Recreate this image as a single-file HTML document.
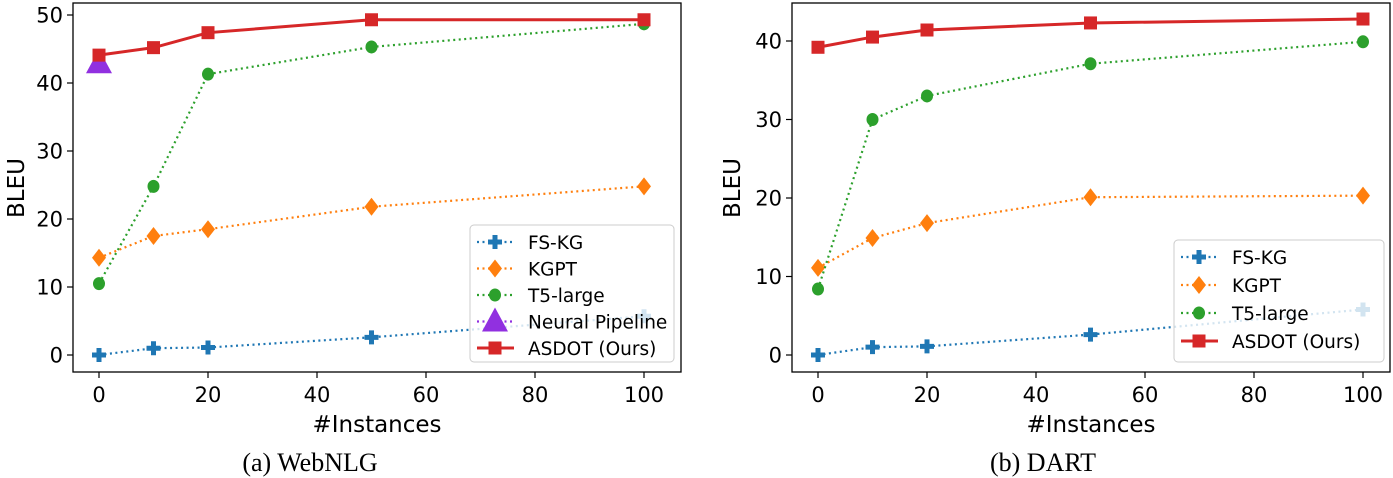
<!DOCTYPE html>
<html><head><meta charset="utf-8"><style>
body{margin:0;background:#fff;}
svg{display:block;font-family:"DejaVu Sans","Liberation Sans",sans-serif;}
</style></head><body>
<svg id="chart" width="1393" height="478" viewBox="0 0 1393 478" xmlns="http://www.w3.org/2000/svg"></svg>
<script>
const xVals = [0, 10, 20, 50, 100];
const xTicks = [0, 20, 40, 60, 80, 100];
const webTicksY = [0, 10, 20, 30, 40, 50];
const dartTicksY = [0, 10, 20, 30, 40];
const webFSKG = [0, 1.0, 1.1, 2.6, 5.7];
const webKGPT = [14.3, 17.5, 18.5, 21.8, 24.8];
const webT5 = [10.5, 24.8, 41.3, 45.3, 48.7];
const webNeural = [42.9];
const webASDOT = [44.1, 45.2, 47.4, 49.3, 49.3];
const dartFSKG = [0, 1.0, 1.1, 2.6, 5.8];
const dartKGPT = [11.1, 14.9, 16.8, 20.1, 20.3];
const dartT5 = [8.4, 30.0, 33.0, 37.1, 39.9];
const dartASDOT = [39.2, 40.5, 41.4, 42.3, 42.8];

const NS = "http://www.w3.org/2000/svg";
const svg = document.getElementById('chart');
function mk(tag, attrs, parent, text){
  const e = document.createElementNS(NS, tag);
  for (const k in attrs) e.setAttribute(k, attrs[k]);
  if (text !== undefined) e.textContent = text;
  (parent || svg).appendChild(e);
  return e;
}
const C = {blue:'#1f77b4', orange:'#ff7f0e', green:'#2ca02c', purple:'#9130e0', red:'#d62728'};

function marker(g, type, x, y, color){
  let m;
  if (type === 'plus') {
    m = mk('path', {d:`M${x-2.5},${y-7}h5v4.5h4.5v5h-4.5v4.5h-5v-4.5h-4.5v-5h4.5z`, fill:color}, g);
  } else if (type === 'diamond') {
    m = mk('path', {d:`M${x},${y-9}L${x+7},${y}L${x},${y+9}L${x-7},${y}Z`, fill:color}, g);
  } else if (type === 'circle') {
    m = mk('ellipse', {cx:x, cy:y, rx:6, ry:6.5, fill:color}, g);
  } else if (type === 'square') {
    m = mk('rect', {x:x-6.5, y:y-6.5, width:13, height:13, fill:color}, g);
  } else if (type === 'triangle') {
    m = mk('path', {d:`M${x},${y-14}L${x+13},${y+10}L${x-13},${y+10}Z`, fill:color}, g);
  }
  
  
}

function chart(cfg){
  const g = mk('g', {});
  
  
  const X = v => cfg.x0 + (cfg.x100 - cfg.x0) * v / 100;
  const Y = v => cfg.y0 - (cfg.y0 - cfg.yRef) * v / cfg.yRefVal;
  const frame = mk('rect', {x:cfg.left, y:3, width:cfg.right-cfg.left, height:369, fill:'none', stroke:'#000', 'stroke-width':1.3}, g);
  
  
  xTicks.forEach(t => {
    mk('line', {x1:X(t), x2:X(t), y1:372, y2:378, stroke:'#000', 'stroke-width':1.2}, g);
    const tl = mk('text', {x:X(t), y:402, 'font-size':21, 'text-anchor':'middle'}, g, String(t));
    
    
  });
  cfg.yTicks.forEach(t => {
    mk('line', {x1:cfg.left-6, x2:cfg.left, y1:Y(t), y2:Y(t), stroke:'#000', 'stroke-width':1.2}, g);
    const tl = mk('text', {x:cfg.left-10, y:Y(t)+7.5, 'font-size':21, 'text-anchor':'end'}, g, String(t));
    
    
  });
  const xt = mk('text', {x:(cfg.left+cfg.right)/2, y:432, 'font-size':23, 'text-anchor':'middle'}, g, '#Instances');
  
  
  const yt = mk('text', {x:0, y:0, 'font-size':23, 'text-anchor':'middle', transform:`translate(${cfg.yTitleX},188) rotate(-90)`}, g, 'BLEU');
  
  
  const cap = mk('text', {x:cfg.capX, y:471, 'font-size':26, 'text-anchor':'middle', 'font-family':'"Liberation Serif",serif'}, g, cfg.caption);
  
  

  cfg.series.forEach(s => {
    const sg = mk('g', {}, g);
    
    
    const pts = s.vals.map((v,i) => [X(xVals[i]), Y(v)]);
    if (pts.length > 1) {
      const attrs = {points: pts.map(p=>p.join(',')).join(' '), fill:'none', stroke:s.color, 'stroke-width': s.solid?3:2.2};
      if (!s.solid) { attrs['stroke-dasharray'] = '2,3.5'; }
      const pl = mk('polyline', attrs, sg);
      
      
    }
    pts.forEach(p => marker(sg, s.marker, p[0], p[1], s.color));
  });

  const L = cfg.legend;
  const lg = mk('g', {}, g);
  
  
  mk('rect', {x:L.x, y:L.y, width:L.w, height:L.h, rx:4, fill:'rgba(255,255,255,0.8)', stroke:'#ccc', 'stroke-width':1}, lg);
  cfg.series.forEach((s,i) => {
    const ey = L.y + 17 + i*L.step;
    const eg = mk('g', {}, lg);
    
    
    const la = {x1:L.x+7, x2:L.x+44, y1:ey, y2:ey, stroke:s.color, 'stroke-width': s.solid?3:2.2};
    if (!s.solid) la['stroke-dasharray'] = '2,3.5';
    mk('line', la, eg);
    marker(eg, s.marker, L.x+25, ey, s.color);
    mk('text', {x:L.x+58, y:ey+7, 'font-size':18.5}, eg, s.label);
  });
}

chart({name:'webnlg-chart', left:73, right:681, x0:99, x100:644, y0:355, yRef:15, yRefVal:50, yTicks:webTicksY, yTitleX:24, capX:310, caption:'(a) WebNLG',
  legend:{x:470, y:225, w:204, h:137, step:26.5},
  series:[
    {key:'fs-kg', label:'FS-KG', vals:webFSKG, color:C.blue, marker:'plus'},
    {key:'kgpt', label:'KGPT', vals:webKGPT, color:C.orange, marker:'diamond'},
    {key:'t5-large', label:'T5-large', vals:webT5, color:C.green, marker:'circle'},
    {key:'neural-pipeline', label:'Neural Pipeline', vals:webNeural, color:C.purple, marker:'triangle'},
    {key:'asdot', label:'ASDOT (Ours)', vals:webASDOT, color:C.red, marker:'square', solid:true}
  ]});
chart({name:'dart-chart', left:792, right:1390, x0:818, x100:1363, y0:355, yRef:41, yRefVal:40, yTicks:dartTicksY, yTitleX:740, capX:1043, caption:'(b) DART',
  legend:{x:1174, y:240, w:210, h:122, step:28},
  series:[
    {key:'fs-kg', label:'FS-KG', vals:dartFSKG, color:C.blue, marker:'plus'},
    {key:'kgpt', label:'KGPT', vals:dartKGPT, color:C.orange, marker:'diamond'},
    {key:'t5-large', label:'T5-large', vals:dartT5, color:C.green, marker:'circle'},
    {key:'asdot', label:'ASDOT (Ours)', vals:dartASDOT, color:C.red, marker:'square', solid:true}
  ]});
</script>
</body></html>
